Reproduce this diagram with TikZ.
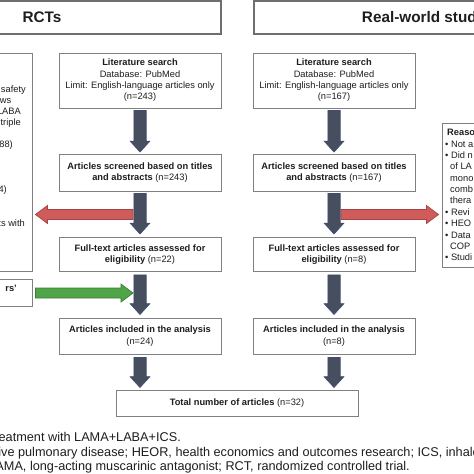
\documentclass[tikz,border=0pt]{standalone}
\usepackage{fontspec}
\setmainfont{Liberation Sans}
\usetikzlibrary{calc}
\definecolor{boxgray}{HTML}{808080}
\definecolor{hdrgray}{HTML}{6E6E6E}
\definecolor{txt}{HTML}{1E1E1E}
\definecolor{arrowfill}{HTML}{474E5F}
\definecolor{arrowedge}{HTML}{3E4D70}
\definecolor{redfill}{HTML}{CF5C5A}
\definecolor{rededge}{HTML}{A84444}
\definecolor{greenfill}{HTML}{4FA548}
\definecolor{greenedge}{HTML}{3C7D37}
\newcommand\boxfont{\fontsize{9.3}{11.3}\selectfont}
\newcommand\notefont{\fontsize{12.7}{14.5}\selectfont}
\newcommand\blkdown[2]{\path[downarr] let \p1=(#1), \p2=(#2) in
  (\x1-6.2pt,\y1) -- (\x1+6.2pt,\y1) -- (\x1+6.2pt,\y2+11pt) -- (\x1+10pt,\y2+11pt)
  -- (\x1,\y2) -- (\x1-10pt,\y2+11pt) -- (\x1-6.2pt,\y2+11pt) -- cycle;}
\newcommand\blkleft[3]{\path[#1] let \p1=(#2), \p2=(#3) in
  (\x1,\y1+5pt) -- (\x2+12pt,\y1+5pt) -- (\x2+12pt,\y1+9pt) -- (\x2,\y1)
  -- (\x2+12pt,\y1-9pt) -- (\x2+12pt,\y1-5pt) -- (\x1,\y1-5pt) -- cycle;}
\newcommand\blkright[3]{\path[#1] let \p1=(#2), \p2=(#3) in
  (\x1,\y1+5pt) -- (\x2-12pt,\y1+5pt) -- (\x2-12pt,\y1+9pt) -- (\x2,\y1)
  -- (\x2-12pt,\y1-9pt) -- (\x2-12pt,\y1-5pt) -- (\x1,\y1-5pt) -- cycle;}
\tikzset{
  x=1pt, y=-1pt,
  stagebox/.style={draw=boxgray, line width=0.9pt, fill=white, align=center,
    inner sep=0pt, minimum width=162, font=\boxfont, text=txt},
  hdrbox/.style={draw=hdrgray, line width=1.1pt, fill=white, inner sep=0pt,
    minimum height=33, font=\fontsize{15.3}{18}\selectfont\bfseries, text=txt},
  exbox/.style={draw=boxgray, line width=0.9pt, fill=white, inner sep=0pt},
  frag/.style={anchor=base east, inner sep=0pt, font=\boxfont, text=txt},
  rfrag/.style={anchor=base west, inner sep=0pt, font=\boxfont, text=txt},
  note/.style={inner sep=0pt, font=\notefont, text=txt},
  downarr/.style={fill=arrowfill, draw=arrowedge, line width=0.6pt},
  redarr/.style={fill=redfill, draw=rededge, line width=0.7pt},
  greenarr/.style={fill=greenfill, draw=greenedge, line width=0.7pt}
}
\begin{document}
\begin{tikzpicture}
\useasboundingbox (0,0) rectangle (474,474);
\clip (0,0) rectangle (474,474);
\fill[white] (0,0) rectangle (474,474);

% headers
\node[hdrbox, minimum width=358] (hl) at (42,17.5) {RCTs};
\node[hdrbox, minimum width=352] (hr) at (430,17.5) {Real-world studies};

% left exclusion boxes
\node[exbox, minimum width=182, minimum height=218] (exl) at (-59,162) {};
\node[exbox, minimum width=182, minimum height=27] (ex2) at (-59,292.5) {};
\node[frag] (f1) at (26,92.5) {safety};
\node[frag] (f2) at (11.5,103.5) {ws};
\node[frag] (f3) at (21,114.5) {LABA};
\node[frag] (f4) at (21,125.5) {triple};
\node[frag] (f5) at (13,147.5) {88)};
\node[frag] (f6) at (7,192.5) {4)};
\node[frag] (f7) at (25,226) {ts with};
\node[frag, font=\boxfont\bfseries] (f8) at (17,291.5) {rs'};

% right reasons box
\node[exbox, minimum width=150, minimum height=144] (rsn) at (517,195) {};
\node[rfrag, font=\boxfont\bfseries] (r0) at (447,135.5) {Reasons};
\node[rfrag] (r1) at (445,147) {• Not a};
\node[rfrag] (r2) at (445,158.3) {• Did n};
\node[rfrag] (r3) at (450,169.7) {of LA};
\node[rfrag] (r4) at (450,181.1) {mono};
\node[rfrag] (r5) at (450,192.5) {comb};
\node[rfrag] (r6) at (450,203.9) {thera};
\node[rfrag] (r7) at (445,215.3) {• Revi};
\node[rfrag] (r8) at (445,226.7) {• HEO};
\node[rfrag] (r9) at (445,238.1) {• Data};
\node[rfrag] (r10) at (450,249.5) {COP};
\node[rfrag] (r11) at (445,260.9) {• Studi};

% left column
\node[stagebox, minimum height=55] (L1) at (140,80.5)
  {\textbf{Literature search}\\Database: PubMed\\Limit: English-language articles only\\(n=243)};
\node[stagebox, minimum height=37] (L2) at (140,172.5)
  {\textbf{Articles screened based on titles}\\\textbf{and abstracts} (n=243)};
\node[stagebox, minimum height=34] (L3) at (140,254.5)
  {\textbf{Full-text articles assessed for}\\\textbf{eligibility} (n=22)};
\node[stagebox, minimum height=36] (L4) at (140,336)
  {\textbf{Articles included in the analysis}\\(n=24)};

% right column
\node[stagebox, minimum height=55] (R1) at (334,80.5)
  {\textbf{Literature search}\\Database: PubMed\\Limit: English-language articles only\\(n=167)};
\node[stagebox, minimum height=37] (R2) at (334,172.5)
  {\textbf{Articles screened based on titles}\\\textbf{and abstracts} (n=167)};
\node[stagebox, minimum height=34] (R3) at (334,254.5)
  {\textbf{Full-text articles assessed for}\\\textbf{eligibility} (n=8)};
\node[stagebox, minimum height=36] (R4) at (334,336)
  {\textbf{Articles included in the analysis}\\(n=8)};

% total
\node[stagebox, minimum width=242, minimum height=26] (T) at (237,403)
  {\textbf{Total number of articles} (n=32)};

% horizontal arrows
\coordinate (rl) at (133,214.5);
\coordinate (rr) at (341,214.5);
\coordinate (gt) at (133,293);
\blkleft{redarr}{rl}{[xshift=3pt]exl.east}
\blkright{redarr}{rr}{[xshift=-3pt]rsn.west}
\blkright{greenarr}{[xshift=3pt]ex2.east |- gt}{gt}

% vertical arrows
\coordinate (tl) at (L4.south |- T.north);
\coordinate (tr) at (R4.south |- T.north);
\blkdown{[yshift=-2pt]L1.south}{[yshift=1.5pt]L2.north}
\blkdown{[yshift=-2pt]L2.south}{[yshift=3pt]L3.north}
\blkdown{[yshift=-3pt]L3.south}{[yshift=3pt]L4.north}
\blkdown{[yshift=-3pt]L4.south}{[yshift=2pt]tl}
\blkdown{[yshift=-2pt]R1.south}{[yshift=1.5pt]R2.north}
\blkdown{[yshift=-2pt]R2.south}{[yshift=3pt]R3.north}
\blkdown{[yshift=-3pt]R3.south}{[yshift=3pt]R4.north}
\blkdown{[yshift=-3pt]R4.south}{[yshift=2pt]tr}

% footnote
\node[note, anchor=base east] (n1) at (181,441) {treatment with LAMA+LABA+ICS.};
\node[note, anchor=base west] (n2) at (1,456)
  {\llap{obstructi}ve pulmonary disease; HEOR, health economics and outcomes research; ICS, inhaled corticosteroid;};
\node[note, anchor=base east] (n3) at (410,470)
  {LAMA, long-acting muscarinic antagonist; RCT, randomized controlled trial.};
\end{tikzpicture}
\end{document}
